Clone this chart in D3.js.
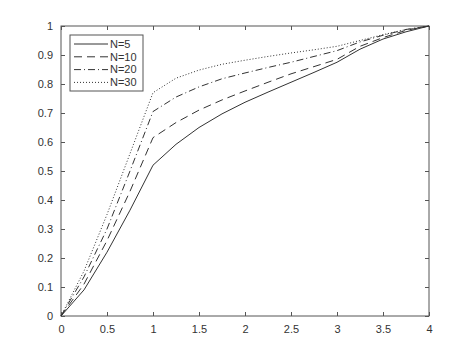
<!DOCTYPE html>
<html>
<head>
<meta charset="utf-8">
<script src="https://cdn.jsdelivr.net/npm/d3@7"></script>
<style>
  body { margin: 0; background: #fff; }
  svg text { font-family: "Liberation Sans", Arial, sans-serif; font-size: 11px; fill: #333; }
</style>
</head>
<body>
<svg id="chart" width="474" height="355"></svg>
<script>
// x positions shared by all curves
const xs = [0, 0.25, 0.5, 0.75, 1, 1.25, 1.5, 1.75, 2, 2.25, 2.5, 2.75, 3, 3.25, 3.5, 3.75, 4];

// values
const n5  = [0, 0.09, 0.22, 0.365, 0.52, 0.592, 0.65, 0.697, 0.737, 0.772, 0.806, 0.84, 0.875, 0.92, 0.955, 0.98, 1];
const n10 = [0, 0.11, 0.26, 0.43, 0.615, 0.667, 0.71, 0.745, 0.776, 0.806, 0.835, 0.86, 0.885, 0.93, 0.96, 0.985, 1];
const n20 = [0, 0.135, 0.30, 0.50, 0.705, 0.755, 0.79, 0.818, 0.838, 0.857, 0.875, 0.895, 0.915, 0.945, 0.968, 0.988, 1];
const n30 = [0, 0.155, 0.35, 0.56, 0.77, 0.82, 0.848, 0.868, 0.882, 0.895, 0.907, 0.918, 0.93, 0.95, 0.97, 0.988, 1];

const seriesNames = ['N=5', 'N=10', 'N=20', 'N=30'];
const seriesValues = [n5, n10, n20, n30];
const dashes = [null, '8,5', '7,3,1,3', '1,2'];

const xTicks = [0, 0.5, 1, 1.5, 2, 2.5, 3, 3.5, 4];
const yTicks = [0, 0.1, 0.2, 0.3, 0.4, 0.5, 0.6, 0.7, 0.8, 0.9, 1];

const margin = { left: 61, top: 26, right: 45, bottom: 39 };
const W = 474, H = 355;
const svg = d3.select('#chart');

const x = d3.scaleLinear().domain([0, 4]).range([margin.left, W - margin.right]);
const y = d3.scaleLinear().domain([0, 1]).range([H - margin.bottom, margin.top]);

const axisColor = '#555';
const lineColor = '#333';

// frame
svg.append('rect')
  .attr('x', x(0)).attr('y', y(1))
  .attr('width', x(4) - x(0)).attr('height', y(0) - y(1))
  .attr('fill', 'none').attr('stroke', axisColor).attr('stroke-width', 1);

// axes with inward ticks
function styleAxis(g) {
  g.select('.domain').remove();
  g.selectAll('.tick line').attr('stroke', axisColor);
}
svg.append('g').attr('transform', `translate(0,${y(0)})`)
  .call(d3.axisBottom(x).tickValues(xTicks).tickSizeInner(-4).tickSizeOuter(0).tickPadding(9).tickFormat(d3.format('')))
  .call(styleAxis)
  .call(g => g.selectAll('text').attr('font-size', null).attr('font-family', null));
svg.append('g').attr('transform', `translate(0,${y(1)})`)
  .call(d3.axisTop(x).tickValues(xTicks).tickSizeInner(-4).tickSizeOuter(0).tickFormat(''))
  .call(styleAxis);
svg.append('g').attr('transform', `translate(${x(0)},0)`)
  .call(d3.axisLeft(y).tickValues(yTicks).tickSizeInner(-4).tickSizeOuter(0).tickPadding(8).tickFormat(d3.format('')))
  .call(styleAxis)
  .call(g => g.selectAll('text').attr('font-size', null).attr('font-family', null));
svg.append('g').attr('transform', `translate(${x(4)},0)`)
  .call(d3.axisRight(y).tickValues(yTicks).tickSizeInner(-4).tickSizeOuter(0).tickFormat(''))
  .call(styleAxis);

// lines
const line = d3.line().x((d, i) => x(xs[i])).y(d => y(d));
seriesValues.forEach((vals, k) => {
  svg.append('path')
    .datum(vals)
    .attr('d', line)
    .attr('fill', 'none')
    .attr('stroke', lineColor)
    .attr('stroke-width', 1)
    .attr('stroke-dasharray', dashes[k]);
});

// legend
const lg = svg.append('g').attr('transform', 'translate(70,35)');
lg.append('rect').attr('width', 73).attr('height', 56)
  .attr('fill', '#fff').attr('stroke', axisColor);
seriesNames.forEach((name, k) => {
  const yy = 9 + k * 12.8;
  lg.append('line').attr('x1', 4).attr('x2', 38).attr('y1', yy).attr('y2', yy)
    .attr('stroke', lineColor).attr('stroke-dasharray', dashes[k]);
  lg.append('text').attr('x', 40).attr('y', yy).attr('dy', '0.35em').text(name);
});
</script>
</body>
</html>
